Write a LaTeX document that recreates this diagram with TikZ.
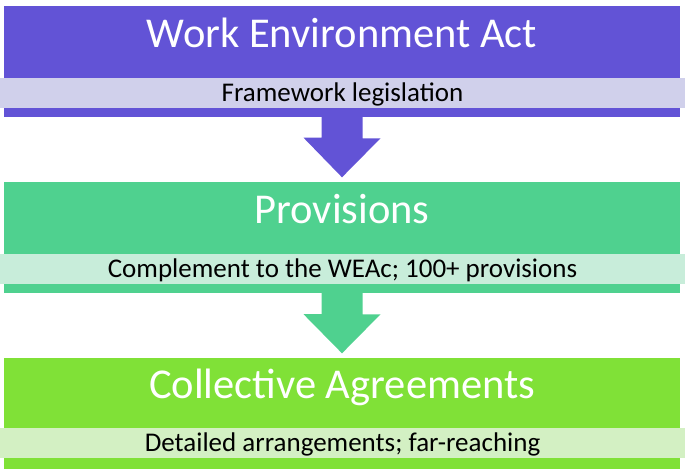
\documentclass[tikz,border=0pt]{standalone}
\usepackage{fontspec}
\setmainfont{Carlito}
\usetikzlibrary{calc}

\definecolor{weaBox}{HTML}{6253D6}
\definecolor{weaBand}{HTML}{D0D0EB}
\definecolor{provBox}{HTML}{4FD18F}
\definecolor{provBand}{HTML}{C8EDDA}
\definecolor{caBox}{HTML}{80E137}
\definecolor{caBand}{HTML}{D3F0C3}

\begin{document}
\begin{tikzpicture}[x=1pt, y=-1pt,
        box/.style={inner sep=0pt, minimum width=676pt, minimum height=111pt},
        band/.style={inner sep=0pt, minimum width=685pt, minimum height=30pt,
                     text height=17pt, text depth=0pt,
                     font=\fontsize{27}{32}\selectfont, text=black},
        title/.style={inner sep=0pt, text=white, text height=27.5pt, text depth=0pt,
                      font=\fontsize{42.5}{50}\selectfont}]
      \useasboundingbox (0,0) rectangle (685,474);
      % three levels, top to bottom
      \node[box, fill=weaBox]   (wea)   at (342,61)    {};
      \node[box, fill=provBox]  (prov)  at (342,237.5) {};
      \node[box, fill=caBox]    (ca)    at (342,413.5) {};
      \node[title] (weaT)  at ($(wea.north)+(0,28)$)  {Work Environment Act};
      \node[title] (provT) at ($(prov.north)+(0,27.5)$) {Provisions};
      \node[title] (caT)   at ($(ca.north)+(0,26.5)$)   {Collective Agreements};
      \node[band, fill=weaBand]  (weaN)  at (342.5,92.5)  {Framework legislation};
      \node[band, fill=provBand] (provN) at (342.5,268.5) {Complement to the WEAc; 100+ provisions};
      \node[band, fill=caBand]   (caN)   at (342.5,442.5) {Detailed arrangements; far-reaching};
      % block arrows between levels
      \fill[weaBox] ([xshift=-20.5pt]wea.south) -- ++(0,21) -- ++(-18,0)
            -- ([yshift=4.5pt]prov.north) -- ++(38.5,-39) -- ++(-18,0)
            -- ([xshift=20.5pt]wea.south) -- cycle;
      \fill[provBox] ([xshift=-20.5pt]prov.south) -- ++(0,21) -- ++(-18,0)
            -- ([yshift=4.5pt]ca.north) -- ++(38.5,-39) -- ++(-18,0)
            -- ([xshift=20.5pt]prov.south) -- cycle;
    \end{tikzpicture}
\end{document}
